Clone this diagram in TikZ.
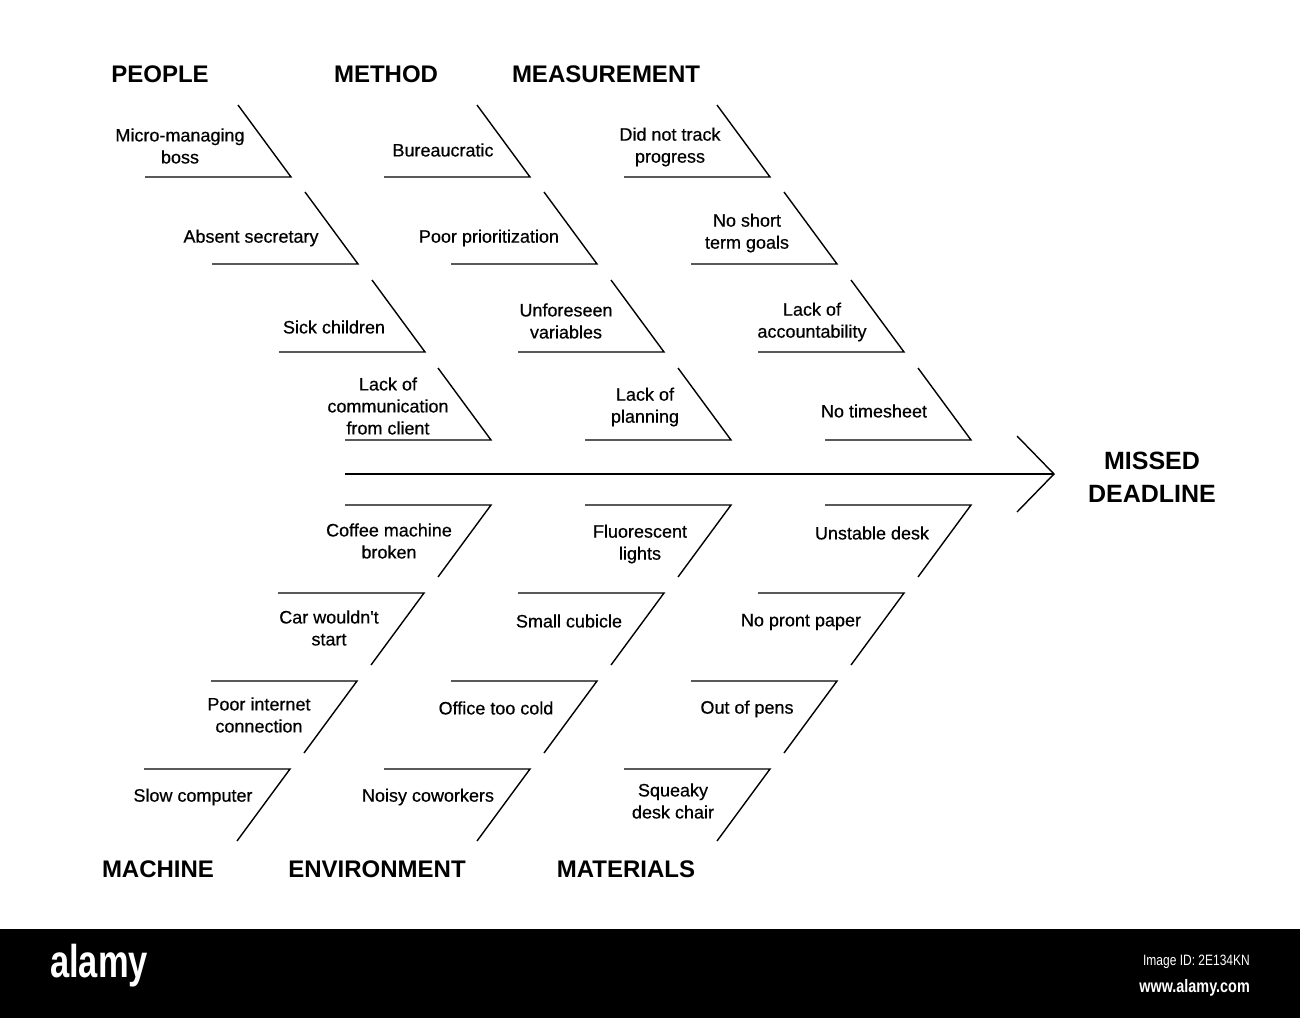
\documentclass[tikz,border=0pt]{standalone}
\usepackage{fontspec}
\setmainfont{Liberation Sans}[Ligatures=TeXOff]
\newfontfamily\causefont{Liberation Sans}[Ligatures=TeXOff,FakeBold=0.5]
\usepackage{tikz}

\begin{document}
\begin{tikzpicture}[x=1pt,y=-1pt,
	bone/.style={line width=1.4pt},
	cause/.style={align=center,inner sep=0pt,font=\causefont\fontsize{18}{22}\selectfont},
	group/.style={inner sep=0pt,font=\fontsize{24}{28}\selectfont\bfseries},
	effect/.style={align=center,inner sep=0pt,font=\fontsize{25}{33}\selectfont\bfseries}]
	\useasboundingbox (0,0) rectangle (1300,1018);

	% spine and head
	\coordinate (tail) at (345,474);
	\coordinate (head) at (1054,474);
	\coordinate (barbup) at (1017,436);
	\coordinate (barbdown) at (1017,512);
	\draw[bone] (tail) -- (head);
	\draw[bone] (barbup) -- (head) -- (barbdown);
	\node (effect) [effect] at (1152,477) {MISSED\\DEADLINE};

	% upper bones
	\coordinate (pe1a) at (145,177); \coordinate (pe1b) at (291,177); \coordinate (pe1c) at (238,105);
	\coordinate (pe2a) at (212,264); \coordinate (pe2b) at (358,264); \coordinate (pe2c) at (305,192);
	\coordinate (pe3a) at (279,352); \coordinate (pe3b) at (425,352); \coordinate (pe3c) at (372,280);
	\coordinate (pe4a) at (345,440); \coordinate (pe4b) at (491,440); \coordinate (pe4c) at (438,368);
	\coordinate (me1a) at (384,177); \coordinate (me1b) at (530,177); \coordinate (me1c) at (477,105);
	\coordinate (me2a) at (451,264); \coordinate (me2b) at (597,264); \coordinate (me2c) at (544,192);
	\coordinate (me3a) at (518,352); \coordinate (me3b) at (664,352); \coordinate (me3c) at (611,280);
	\coordinate (me4a) at (585,440); \coordinate (me4b) at (731,440); \coordinate (me4c) at (678,368);
	\coordinate (ms1a) at (624,177); \coordinate (ms1b) at (770,177); \coordinate (ms1c) at (717,105);
	\coordinate (ms2a) at (691,264); \coordinate (ms2b) at (837,264); \coordinate (ms2c) at (784,192);
	\coordinate (ms3a) at (758,352); \coordinate (ms3b) at (904,352); \coordinate (ms3c) at (851,280);
	\coordinate (ms4a) at (825,440); \coordinate (ms4b) at (971,440); \coordinate (ms4c) at (918,368);

	% lower bones
	\coordinate (mc1a) at (345,505); \coordinate (mc1b) at (491,505); \coordinate (mc1c) at (438,577);
	\coordinate (mc2a) at (278,593); \coordinate (mc2b) at (424,593); \coordinate (mc2c) at (371,665);
	\coordinate (mc3a) at (211,681); \coordinate (mc3b) at (357,681); \coordinate (mc3c) at (304,753);
	\coordinate (mc4a) at (144,769); \coordinate (mc4b) at (290,769); \coordinate (mc4c) at (237,841);
	\coordinate (en1a) at (585,505); \coordinate (en1b) at (731,505); \coordinate (en1c) at (678,577);
	\coordinate (en2a) at (518,593); \coordinate (en2b) at (664,593); \coordinate (en2c) at (611,665);
	\coordinate (en3a) at (451,681); \coordinate (en3b) at (597,681); \coordinate (en3c) at (544,753);
	\coordinate (en4a) at (384,769); \coordinate (en4b) at (530,769); \coordinate (en4c) at (477,841);
	\coordinate (ma1a) at (825,505); \coordinate (ma1b) at (971,505); \coordinate (ma1c) at (918,577);
	\coordinate (ma2a) at (758,593); \coordinate (ma2b) at (904,593); \coordinate (ma2c) at (851,665);
	\coordinate (ma3a) at (691,681); \coordinate (ma3b) at (837,681); \coordinate (ma3c) at (784,753);
	\coordinate (ma4a) at (624,769); \coordinate (ma4b) at (770,769); \coordinate (ma4c) at (717,841);

	\draw[bone] (pe1a) -- (pe1b) -- (pe1c);
	\draw[bone] (pe2a) -- (pe2b) -- (pe2c);
	\draw[bone] (pe3a) -- (pe3b) -- (pe3c);
	\draw[bone] (pe4a) -- (pe4b) -- (pe4c);
	\draw[bone] (me1a) -- (me1b) -- (me1c);
	\draw[bone] (me2a) -- (me2b) -- (me2c);
	\draw[bone] (me3a) -- (me3b) -- (me3c);
	\draw[bone] (me4a) -- (me4b) -- (me4c);
	\draw[bone] (ms1a) -- (ms1b) -- (ms1c);
	\draw[bone] (ms2a) -- (ms2b) -- (ms2c);
	\draw[bone] (ms3a) -- (ms3b) -- (ms3c);
	\draw[bone] (ms4a) -- (ms4b) -- (ms4c);
	\draw[bone] (mc1a) -- (mc1b) -- (mc1c);
	\draw[bone] (mc2a) -- (mc2b) -- (mc2c);
	\draw[bone] (mc3a) -- (mc3b) -- (mc3c);
	\draw[bone] (mc4a) -- (mc4b) -- (mc4c);
	\draw[bone] (en1a) -- (en1b) -- (en1c);
	\draw[bone] (en2a) -- (en2b) -- (en2c);
	\draw[bone] (en3a) -- (en3b) -- (en3c);
	\draw[bone] (en4a) -- (en4b) -- (en4c);
	\draw[bone] (ma1a) -- (ma1b) -- (ma1c);
	\draw[bone] (ma2a) -- (ma2b) -- (ma2c);
	\draw[bone] (ma3a) -- (ma3b) -- (ma3c);
	\draw[bone] (ma4a) -- (ma4b) -- (ma4c);

	% categories
	\node (people) [group] at (160,74) {PEOPLE};
	\node (method) [group] at (386,74) {METHOD};
	\node (measure) [group] at (606,74) {MEASUREMENT};
	\node (machine) [group] at (158,869) {MACHINE};
	\node (environ) [group] at (377,869) {ENVIRONMENT};
	\node (material) [group] at (626,869) {MATERIALS};

	% causes
	\node (pe1) [cause] at (180,146) {Micro-managing\\boss};
	\node (pe2) [cause] at (251,238) {Absent secretary};
	\node (pe3) [cause] at (334,327) {Sick children};
	\node (pe4) [cause] at (388,406) {Lack of\\communication\\from client};
	\node (me1) [cause] at (443,150) {Bureaucratic};
	\node (me2) [cause] at (489,238) {Poor prioritization};
	\node (me3) [cause] at (566,321) {Unforeseen\\variables};
	\node (me4) [cause] at (645,407) {Lack of\\planning};
	\node (ms1) [cause] at (670,147) {Did not track\\progress};
	\node (ms2) [cause] at (747,233) {No short\\term goals};
	\node (ms3) [cause] at (812,322) {Lack of\\accountability};
	\node (ms4) [cause] at (874,411) {No timesheet};
	\node (mc1) [cause] at (389,541) {Coffee machine\\broken};
	\node (mc2) [cause] at (329,628) {Car wouldn't\\start};
	\node (mc3) [cause] at (259,715) {Poor internet\\connection};
	\node (mc4) [cause] at (193,797) {Slow computer};
	\node (en1) [cause] at (640,544) {Fluorescent\\lights};
	\node (en2) [cause] at (569,621) {Small cubicle};
	\node (en3) [cause] at (496,708) {Office too cold};
	\node (en4) [cause] at (428,797) {Noisy coworkers};
	\node (ma1) [cause] at (872,533) {Unstable desk};
	\node (ma2) [cause] at (801,622) {No pront paper};
	\node (ma3) [cause] at (747,709) {Out of pens};
	\node (ma4) [cause] at (673,801) {Squeaky\\desk chair};

	% bottom band
	\fill[black] (0,929) rectangle (1300,1018);
	\node (brand) [white,inner sep=0pt,anchor=west,font=\fontsize{46}{46}\selectfont\bfseries] at (50,966) {\scalebox{0.75}[1]{alamy}};
	\node (imageid) [white,inner sep=0pt,anchor=east,font=\fontsize{15}{15}\selectfont] at (1250,962) {\scalebox{0.8}[1]{Image ID: 2E134KN}};
	\node (site) [white,inner sep=0pt,anchor=east,font=\fontsize{18}{18}\selectfont\bfseries] at (1250,988) {\scalebox{0.8}[1]{www.alamy.com}};
\end{tikzpicture}
\end{document}
